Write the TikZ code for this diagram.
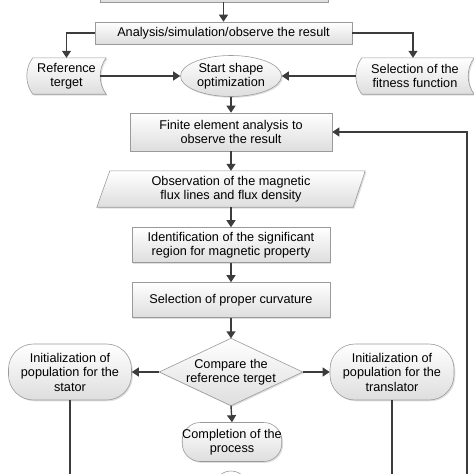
\documentclass[tikz,border=0pt]{standalone}
\usepackage{fontspec}
\setmainfont{Liberation Sans}
\usetikzlibrary{shapes.geometric,arrows.meta,shadows,calc}
\definecolor{linec}{HTML}{3C3C3C}
\definecolor{bordc}{HTML}{9A9A9A}
\tikzset{
  shapefill/.style={draw=bordc, line width=0.6pt, top color=white, bottom color=black!13,
    drop shadow={shadow xshift=1.3pt, shadow yshift=-1.3pt, opacity=0.25}},
  boxnode/.style={shapefill, rectangle, inner sep=0pt, align=center},
  ghost/.style={rectangle, inner sep=0pt, align=center},
  conn/.style={draw=linec, line width=1.4pt, -{Triangle[length=7pt,width=9pt]}},
  plain/.style={draw=linec, line width=1.4pt},
}
\begin{document}
\begin{tikzpicture}[x=1pt,y=-1pt,font=\fontsize{12.7}{14.5}\selectfont]
\useasboundingbox (0,0) rectangle (474,474);
% nodes
\node[boxnode, minimum width=228pt, minimum height=24pt] (top) at (214,-10) {};
\node[boxnode, minimum width=257pt, minimum height=22pt] (ana) at (223.5,33) {Analysis/simulation/observe the result};
\node[ghost, minimum width=79pt, minimum height=36pt] (ref) at (66.5,76) {};
\node[ghost, minimum width=118pt, minimum height=36pt] (sel) at (415,76) {};
\path[shapefill] ($(ref.north west)+(6,0)$) -- (ref.north east)
   .. controls ($(ref.north east)+(-8,10)$) and ($(ref.south east)+(-8,-10)$) .. (ref.south east)
   -- ($(ref.south west)+(6,0)$)
   .. controls ($(ref.south west)+(-2,-10)$) and ($(ref.north west)+(-2,10)$) .. cycle;
\path[shapefill] ($(sel.north west)+(6,0)$) -- (sel.north east)
   .. controls ($(sel.north east)+(-8,10)$) and ($(sel.south east)+(-8,-10)$) .. (sel.south east)
   -- ($(sel.south west)+(6,0)$)
   .. controls ($(sel.south west)+(-2,-10)$) and ($(sel.north west)+(-2,10)$) .. cycle;
\node[ghost] at (ref) {Reference\\terget};
\node[ghost] at (sel) {Selection of the\\fitness function};
\node[shapefill, ellipse, inner sep=0pt, minimum width=101pt, minimum height=41pt, align=center] (start) at (231,76) {Start shape\\optimization};
\node[boxnode, minimum width=202pt, minimum height=38pt] (fea) at (231,132) {Finite element analysis to\\observe the result};
\node[ghost, minimum width=268pt, minimum height=36pt] (obs) at (231,189) {};
\path[shapefill] ($(obs.north west)+(13,0)$) -- (obs.north east) -- ($(obs.south east)+(-12,0)$) -- (obs.south west) -- cycle;
\node[ghost] at (obs) {Observation of the magnetic\\flux lines and flux density};
\node[boxnode, minimum width=198pt, minimum height=35pt] (ident) at (231,245) {Identification of the significant\\region for magnetic property};
\node[boxnode, minimum width=198pt, minimum height=35pt] (curv) at (231,300) {Selection of proper curvature};
\node[ghost, minimum width=143pt, minimum height=67pt] (cmp) at (231,372) {};
\path[shapefill] (cmp.north) -- (cmp.east) -- (cmp.south) -- (cmp.west) -- cycle;
\node[ghost] at (cmp) {Compare the\\reference terget};
\node[boxnode, rounded corners=25pt, minimum width=123pt, minimum height=56pt] (stat) at (70,372) {Initialization of\\population for the\\stator};
\node[boxnode, rounded corners=25pt, minimum width=124pt, minimum height=56pt] (trans) at (392,372) {Initialization of\\population for the\\translator};
\node[boxnode, rounded corners=18pt, minimum width=96pt, minimum height=39pt] (comp) at (232,442) {Completion of the\\process};
\node[shapefill, ellipse, minimum width=32pt, minimum height=30pt] (nxt) at (231,486) {};
\coordinate (sb) at (70,480);
\coordinate (tb) at (392,480);
\coordinate (fb) at (467,480);
% connectors
\draw[conn] (top.south -| ana.north) -- (ana.north);
\draw[conn] (ana.west) -| (ref.north);
\draw[conn] (ana.east) -| ([xshift=-2pt]sel.north);
\draw[conn] ($(ref.east)+(-6,0)$) -- (start.west);
\draw[conn] (sel.west) -- (start.east);
\draw[conn] (start.south) -- (fea.north);
\draw[conn] (fea.south) -- (obs.north);
\draw[conn] (obs.south) -- (ident.north);
\draw[conn] (ident.south) -- (curv.north);
\draw[conn] (curv.south) -- (cmp.north);
\draw[conn] (cmp.west) -- (stat.east);
\draw[conn] (cmp.east) -- (trans.west);
\draw[conn] (cmp.south) -- (comp.north);
\draw[plain] (stat.south) -- (sb);
\draw[plain] (trans.south) -- (tb);
\draw[conn] (fb) |- (fea.east);
\end{tikzpicture}
\end{document}
